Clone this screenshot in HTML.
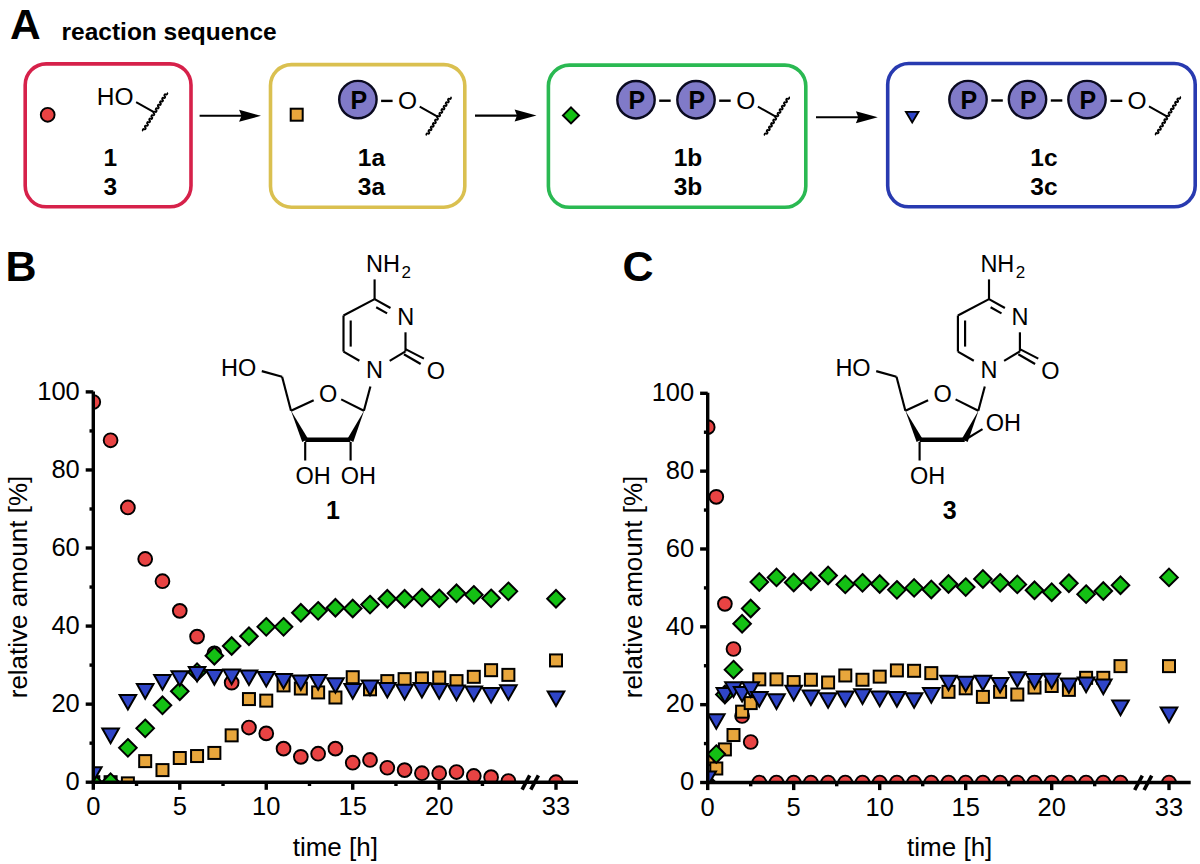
<!DOCTYPE html>
<html><head><meta charset="utf-8"><title>Figure</title>
<style>html,body{margin:0;padding:0;background:#fff;}svg{display:block;}</style>
</head><body>
<svg width="1200" height="864" viewBox="0 0 1200 864" font-family='"Liberation Sans", Arial, Helvetica, sans-serif' fill="#000">
<rect width="1200" height="864" fill="#fff"/>
<text x="10" y="39" font-size="42.5" font-weight="bold">A</text>
<text x="61.5" y="39.7" font-size="24.5" font-weight="bold">reaction sequence</text>
<rect x="25.2" y="63.9" width="165.8" height="142.9" rx="21" ry="21" fill="none" stroke="#d6214a" stroke-width="3.6"/>
<rect x="270.5" y="64.6" width="194.3" height="142.6" rx="21" ry="21" fill="none" stroke="#dac050" stroke-width="3.6"/>
<rect x="548.4" y="65.1" width="257.4" height="142.2" rx="21" ry="21" fill="none" stroke="#2ab952" stroke-width="3.6"/>
<rect x="887.7" y="63.5" width="307.5" height="143.3" rx="21" ry="21" fill="none" stroke="#283ab0" stroke-width="3.6"/>
<line x1="199.6" y1="115.8" x2="243" y2="115.8" stroke="#000" stroke-width="2.1"/>
<path d="M261,115.8 L239.1,109.8 L241.5,115.8 L239.1,121.8 Z" fill="#000"/>
<line x1="475" y1="115.6" x2="518.5" y2="115.6" stroke="#000" stroke-width="2.1"/>
<path d="M536.5,115.6 L514.6,109.6 L517,115.6 L514.6,121.6 Z" fill="#000"/>
<line x1="816" y1="117.3" x2="859.8" y2="117.3" stroke="#000" stroke-width="2.1"/>
<path d="M877.8,117.3 L855.9,111.3 L858.3,117.3 L855.9,123.3 Z" fill="#000"/>
<circle cx="47.7" cy="114.8" r="6.9" fill="#e84343" stroke="#000" stroke-width="1.9"/>
<text x="96.8" y="104.6" font-size="24.5">HO</text>
<line x1="136.1" y1="102.2" x2="153.9" y2="112.2" stroke="#000" stroke-width="2"/>
<path d="M143.2,130.9 A1.02,1.02 0 0 1 144.28,129.16 A1.02,1.02 0 0 0 145.35,127.43 A1.02,1.02 0 0 1 146.43,125.69 A1.02,1.02 0 0 0 147.51,123.95 A1.02,1.02 0 0 1 148.59,122.22 A1.02,1.02 0 0 0 149.66,120.48 A1.02,1.02 0 0 1 150.74,118.75 A1.02,1.02 0 0 0 151.82,117.01 A1.02,1.02 0 0 1 152.9,115.27 A1.02,1.02 0 0 0 153.97,113.54 A1.02,1.02 0 0 1 155.05,111.8 A1.02,1.02 0 0 0 156.13,110.06 A1.02,1.02 0 0 1 157.2,108.33 A1.02,1.02 0 0 0 158.28,106.59 A1.02,1.02 0 0 1 159.36,104.85 A1.02,1.02 0 0 0 160.44,103.12 A1.02,1.02 0 0 1 161.51,101.38 A1.02,1.02 0 0 0 162.59,99.65 A1.02,1.02 0 0 1 163.67,97.91 A1.02,1.02 0 0 0 164.75,96.17 A1.02,1.02 0 0 1 165.82,94.44 A1.02,1.02 0 0 0 166.9,92.7" fill="none" stroke="#000" stroke-width="1.8"/>
<text x="110.4" y="165.8" font-size="24.5" font-weight="bold" text-anchor="middle">1</text>
<text x="110.4" y="194.5" font-size="24.5" font-weight="bold" text-anchor="middle">3</text>
<rect x="290.7" y="108.7" width="12" height="12" fill="#e8a63c" stroke="#000" stroke-width="2"/>
<circle cx="357.9" cy="99.6" r="18.7" fill="#807ac8" stroke="#0a0a20" stroke-width="2.4"/>
<text x="358.8" y="109.1" font-size="25" font-weight="bold" text-anchor="middle">P</text>
<line x1="381.1" y1="100.9" x2="392.6" y2="100.9" stroke="#000" stroke-width="2.4"/>
<text x="398.1" y="109" font-size="24.5">O</text>
<line x1="419.7" y1="106.6" x2="437.5" y2="116.6" stroke="#000" stroke-width="2"/>
<path d="M426.8,135.3 A1.02,1.02 0 0 1 427.88,133.56 A1.02,1.02 0 0 0 428.95,131.83 A1.02,1.02 0 0 1 430.03,130.09 A1.02,1.02 0 0 0 431.11,128.35 A1.02,1.02 0 0 1 432.19,126.62 A1.02,1.02 0 0 0 433.26,124.88 A1.02,1.02 0 0 1 434.34,123.15 A1.02,1.02 0 0 0 435.42,121.41 A1.02,1.02 0 0 1 436.5,119.67 A1.02,1.02 0 0 0 437.57,117.94 A1.02,1.02 0 0 1 438.65,116.2 A1.02,1.02 0 0 0 439.73,114.46 A1.02,1.02 0 0 1 440.8,112.73 A1.02,1.02 0 0 0 441.88,110.99 A1.02,1.02 0 0 1 442.96,109.25 A1.02,1.02 0 0 0 444.04,107.52 A1.02,1.02 0 0 1 445.11,105.78 A1.02,1.02 0 0 0 446.19,104.05 A1.02,1.02 0 0 1 447.27,102.31 A1.02,1.02 0 0 0 448.35,100.57 A1.02,1.02 0 0 1 449.42,98.84 A1.02,1.02 0 0 0 450.5,97.1" fill="none" stroke="#000" stroke-width="1.8"/>
<text x="371.4" y="165.8" font-size="24.5" font-weight="bold" text-anchor="middle">1a</text>
<text x="371.4" y="194.5" font-size="24.5" font-weight="bold" text-anchor="middle">3a</text>
<path d="M571,107.4 L579,115.4 L571,123.4 L563,115.4 Z" fill="#14c014" stroke="#000" stroke-width="2"/>
<circle cx="636" cy="99.75" r="18.7" fill="#807ac8" stroke="#0a0a20" stroke-width="2.4"/>
<text x="636.9" y="109.25" font-size="25" font-weight="bold" text-anchor="middle">P</text>
<line x1="659.2" y1="100.7" x2="670.7" y2="100.7" stroke="#000" stroke-width="2.4"/>
<circle cx="696" cy="99.75" r="18.7" fill="#807ac8" stroke="#0a0a20" stroke-width="2.4"/>
<text x="696.9" y="109.25" font-size="25" font-weight="bold" text-anchor="middle">P</text>
<line x1="719.2" y1="100.7" x2="730.7" y2="100.7" stroke="#000" stroke-width="2.4"/>
<text x="736.3" y="109" font-size="24.5">O</text>
<line x1="757.9" y1="106.6" x2="775.7" y2="116.6" stroke="#000" stroke-width="2"/>
<path d="M765,135.3 A1.02,1.02 0 0 1 766.08,133.56 A1.02,1.02 0 0 0 767.15,131.83 A1.02,1.02 0 0 1 768.23,130.09 A1.02,1.02 0 0 0 769.31,128.35 A1.02,1.02 0 0 1 770.39,126.62 A1.02,1.02 0 0 0 771.46,124.88 A1.02,1.02 0 0 1 772.54,123.15 A1.02,1.02 0 0 0 773.62,121.41 A1.02,1.02 0 0 1 774.7,119.67 A1.02,1.02 0 0 0 775.77,117.94 A1.02,1.02 0 0 1 776.85,116.2 A1.02,1.02 0 0 0 777.93,114.46 A1.02,1.02 0 0 1 779,112.73 A1.02,1.02 0 0 0 780.08,110.99 A1.02,1.02 0 0 1 781.16,109.25 A1.02,1.02 0 0 0 782.24,107.52 A1.02,1.02 0 0 1 783.31,105.78 A1.02,1.02 0 0 0 784.39,104.05 A1.02,1.02 0 0 1 785.47,102.31 A1.02,1.02 0 0 0 786.55,100.57 A1.02,1.02 0 0 1 787.62,98.84 A1.02,1.02 0 0 0 788.7,97.1" fill="none" stroke="#000" stroke-width="1.8"/>
<text x="688" y="165.8" font-size="24.5" font-weight="bold" text-anchor="middle">1b</text>
<text x="688" y="194.5" font-size="24.5" font-weight="bold" text-anchor="middle">3b</text>
<path d="M905.9,111.8 L918.5,111.8 L912.2,122.4 Z" fill="#2f45c8" stroke="#000" stroke-width="1.8"/>
<circle cx="968" cy="99.6" r="18.7" fill="#807ac8" stroke="#0a0a20" stroke-width="2.4"/>
<text x="968.9" y="109.1" font-size="25" font-weight="bold" text-anchor="middle">P</text>
<line x1="991.3" y1="100.5" x2="1002.8" y2="100.5" stroke="#000" stroke-width="2.4"/>
<circle cx="1027.5" cy="99.6" r="18.7" fill="#807ac8" stroke="#0a0a20" stroke-width="2.4"/>
<text x="1028.4" y="109.1" font-size="25" font-weight="bold" text-anchor="middle">P</text>
<line x1="1050.8" y1="100.5" x2="1062.3" y2="100.5" stroke="#000" stroke-width="2.4"/>
<circle cx="1087" cy="99.6" r="18.7" fill="#807ac8" stroke="#0a0a20" stroke-width="2.4"/>
<text x="1087.9" y="109.1" font-size="25" font-weight="bold" text-anchor="middle">P</text>
<line x1="1110.5" y1="100.8" x2="1122.3" y2="100.8" stroke="#000" stroke-width="2.4"/>
<text x="1127.4" y="108.7" font-size="24.5">O</text>
<line x1="1149" y1="106.3" x2="1166.8" y2="116.3" stroke="#000" stroke-width="2"/>
<path d="M1156.1,135 A1.02,1.02 0 0 1 1157.18,133.26 A1.02,1.02 0 0 0 1158.25,131.53 A1.02,1.02 0 0 1 1159.33,129.79 A1.02,1.02 0 0 0 1160.41,128.05 A1.02,1.02 0 0 1 1161.49,126.32 A1.02,1.02 0 0 0 1162.56,124.58 A1.02,1.02 0 0 1 1163.64,122.85 A1.02,1.02 0 0 0 1164.72,121.11 A1.02,1.02 0 0 1 1165.8,119.37 A1.02,1.02 0 0 0 1166.87,117.64 A1.02,1.02 0 0 1 1167.95,115.9 A1.02,1.02 0 0 0 1169.03,114.16 A1.02,1.02 0 0 1 1170.1,112.43 A1.02,1.02 0 0 0 1171.18,110.69 A1.02,1.02 0 0 1 1172.26,108.95 A1.02,1.02 0 0 0 1173.34,107.22 A1.02,1.02 0 0 1 1174.41,105.48 A1.02,1.02 0 0 0 1175.49,103.75 A1.02,1.02 0 0 1 1176.57,102.01 A1.02,1.02 0 0 0 1177.65,100.27 A1.02,1.02 0 0 1 1178.72,98.54 A1.02,1.02 0 0 0 1179.8,96.8" fill="none" stroke="#000" stroke-width="1.8"/>
<text x="1043.9" y="165.8" font-size="24.5" font-weight="bold" text-anchor="middle">1c</text>
<text x="1043.9" y="194.5" font-size="24.5" font-weight="bold" text-anchor="middle">3c</text>
<text x="5.5" y="281" font-size="43" font-weight="bold">B</text>
<text x="622.5" y="281" font-size="43" font-weight="bold">C</text>
<text x="366" y="271.9" font-size="23.5" text-anchor="start">NH</text>
<text x="401.4" y="277.7" font-size="17">2</text>
<line x1="374.6" y1="279.4" x2="374.6" y2="299.1" stroke="#000" stroke-width="2.15" stroke-linecap="butt"/>
<line x1="374.6" y1="299.1" x2="343.5" y2="315.5" stroke="#000" stroke-width="2.15" stroke-linecap="butt"/>
<line x1="343.5" y1="315.5" x2="343.5" y2="351.6" stroke="#000" stroke-width="2.15" stroke-linecap="butt"/>
<line x1="350.7" y1="320.5" x2="350.7" y2="346.6" stroke="#000" stroke-width="2.15" stroke-linecap="butt"/>
<line x1="343.5" y1="351.6" x2="359.4" y2="360.8" stroke="#000" stroke-width="2.15" stroke-linecap="butt"/>
<line x1="389.7" y1="360.8" x2="405.5" y2="351.4" stroke="#000" stroke-width="2.15" stroke-linecap="butt"/>
<line x1="405.5" y1="351.4" x2="405.5" y2="332.3" stroke="#000" stroke-width="2.15" stroke-linecap="butt"/>
<line x1="390.5" y1="308" x2="374.6" y2="299.1" stroke="#000" stroke-width="2.15" stroke-linecap="butt"/>
<line x1="387.1" y1="313.4" x2="376.2" y2="307.3" stroke="#000" stroke-width="2.15" stroke-linecap="butt"/>
<line x1="405.5" y1="349.1" x2="423.9" y2="358.6" stroke="#000" stroke-width="2.15" stroke-linecap="butt"/>
<line x1="403.9" y1="354.2" x2="420.7" y2="364" stroke="#000" stroke-width="2.15" stroke-linecap="butt"/>
<text x="397.2" y="325.2" font-size="23.5" text-anchor="start">N</text>
<text x="366" y="377.6" font-size="23.5" text-anchor="start">N</text>
<text x="426.8" y="378.8" font-size="23.5" text-anchor="start">O</text>
<text x="221" y="376.2" font-size="23.5" text-anchor="start">HO</text>
<line x1="261.8" y1="371.1" x2="282.1" y2="376.7" stroke="#000" stroke-width="2.15" stroke-linecap="butt"/>
<line x1="282.1" y1="376.7" x2="291" y2="410.8" stroke="#000" stroke-width="2.15" stroke-linecap="butt"/>
<line x1="291" y1="410.8" x2="313.7" y2="400.2" stroke="#000" stroke-width="2.15" stroke-linecap="butt"/>
<text x="319" y="402.2" font-size="23.5" text-anchor="start">O</text>
<line x1="341.2" y1="399.4" x2="363.9" y2="410.8" stroke="#000" stroke-width="2.15" stroke-linecap="butt"/>
<line x1="363.9" y1="410.8" x2="370.4" y2="386.5" stroke="#000" stroke-width="2.15" stroke-linecap="butt"/>
<path d="M290.9,410.6 L302.22,441.92 L308.18,439.08 Z" fill="#000"/>
<path d="M364.2,410.6 L347.31,439.11 L353.29,441.89 Z" fill="#000"/>
<line x1="305.2" y1="439.7" x2="350.3" y2="439.7" stroke="#000" stroke-width="4.4" stroke-linecap="butt"/>
<line x1="305.2" y1="442" x2="305.2" y2="460.5" stroke="#000" stroke-width="2.15" stroke-linecap="butt"/>
<text x="295.5" y="483.7" font-size="23.5" text-anchor="start">OH</text>
<line x1="350.6" y1="442" x2="350.6" y2="460.5" stroke="#000" stroke-width="2.15" stroke-linecap="butt"/>
<text x="340.8" y="483.7" font-size="23.5" text-anchor="start">OH</text>
<text x="332.9" y="519.2" font-size="25" font-weight="bold" text-anchor="middle">1</text>
<text x="980.4" y="271.9" font-size="23.5" text-anchor="start">NH</text>
<text x="1015.8" y="277.7" font-size="17">2</text>
<line x1="989" y1="279.4" x2="989" y2="299.1" stroke="#000" stroke-width="2.15" stroke-linecap="butt"/>
<line x1="989" y1="299.1" x2="957.9" y2="315.5" stroke="#000" stroke-width="2.15" stroke-linecap="butt"/>
<line x1="957.9" y1="315.5" x2="957.9" y2="351.6" stroke="#000" stroke-width="2.15" stroke-linecap="butt"/>
<line x1="965.1" y1="320.5" x2="965.1" y2="346.6" stroke="#000" stroke-width="2.15" stroke-linecap="butt"/>
<line x1="957.9" y1="351.6" x2="973.8" y2="360.8" stroke="#000" stroke-width="2.15" stroke-linecap="butt"/>
<line x1="1004.1" y1="360.8" x2="1019.9" y2="351.4" stroke="#000" stroke-width="2.15" stroke-linecap="butt"/>
<line x1="1019.9" y1="351.4" x2="1019.9" y2="332.3" stroke="#000" stroke-width="2.15" stroke-linecap="butt"/>
<line x1="1004.9" y1="308" x2="989" y2="299.1" stroke="#000" stroke-width="2.15" stroke-linecap="butt"/>
<line x1="1001.5" y1="313.4" x2="990.6" y2="307.3" stroke="#000" stroke-width="2.15" stroke-linecap="butt"/>
<line x1="1019.9" y1="349.1" x2="1038.3" y2="358.6" stroke="#000" stroke-width="2.15" stroke-linecap="butt"/>
<line x1="1018.3" y1="354.2" x2="1035.1" y2="364" stroke="#000" stroke-width="2.15" stroke-linecap="butt"/>
<text x="1011.6" y="325.2" font-size="23.5" text-anchor="start">N</text>
<text x="980.4" y="377.6" font-size="23.5" text-anchor="start">N</text>
<text x="1041.2" y="378.8" font-size="23.5" text-anchor="start">O</text>
<text x="835.4" y="376.2" font-size="23.5" text-anchor="start">HO</text>
<line x1="876.2" y1="371.1" x2="896.5" y2="376.7" stroke="#000" stroke-width="2.15" stroke-linecap="butt"/>
<line x1="896.5" y1="376.7" x2="905.4" y2="410.8" stroke="#000" stroke-width="2.15" stroke-linecap="butt"/>
<line x1="905.4" y1="410.8" x2="928.1" y2="400.2" stroke="#000" stroke-width="2.15" stroke-linecap="butt"/>
<text x="933.4" y="402.2" font-size="23.5" text-anchor="start">O</text>
<line x1="955.6" y1="399.4" x2="978.3" y2="410.8" stroke="#000" stroke-width="2.15" stroke-linecap="butt"/>
<line x1="978.3" y1="410.8" x2="984.8" y2="386.5" stroke="#000" stroke-width="2.15" stroke-linecap="butt"/>
<path d="M905.3,410.6 L916.62,441.92 L922.58,439.08 Z" fill="#000"/>
<path d="M978.6,410.6 L961.71,439.11 L967.69,441.89 Z" fill="#000"/>
<line x1="919.6" y1="439.7" x2="964.7" y2="439.7" stroke="#000" stroke-width="4.4" stroke-linecap="butt"/>
<line x1="919.6" y1="442" x2="919.6" y2="460.5" stroke="#000" stroke-width="2.15" stroke-linecap="butt"/>
<text x="909.9" y="483.7" font-size="23.5" text-anchor="start">OH</text>
<line x1="964.7" y1="440" x2="982.5" y2="429.2" stroke="#000" stroke-width="2.15" stroke-linecap="butt"/>
<text x="985.8" y="430.8" font-size="23.5" text-anchor="start">OH</text>
<text x="949.6" y="519.2" font-size="25" font-weight="bold" text-anchor="middle">3</text>
<clipPath id="cb"><rect x="93.3" y="371.9" width="504.7" height="410.3"/></clipPath>
<g clip-path="url(#cb)">
<circle cx="93.3" cy="402.05" r="6.9" fill="#e84343" stroke="#000" stroke-width="1.9"/>
<circle cx="110.59" cy="440.3" r="6.9" fill="#e84343" stroke="#000" stroke-width="1.9"/>
<circle cx="127.89" cy="507.43" r="6.9" fill="#e84343" stroke="#000" stroke-width="1.9"/>
<circle cx="145.19" cy="558.95" r="6.9" fill="#e84343" stroke="#000" stroke-width="1.9"/>
<circle cx="162.48" cy="581.2" r="6.9" fill="#e84343" stroke="#000" stroke-width="1.9"/>
<circle cx="179.78" cy="610.86" r="6.9" fill="#e84343" stroke="#000" stroke-width="1.9"/>
<circle cx="197.07" cy="636.62" r="6.9" fill="#e84343" stroke="#000" stroke-width="1.9"/>
<circle cx="214.37" cy="653.4" r="6.9" fill="#e84343" stroke="#000" stroke-width="1.9"/>
<circle cx="231.66" cy="682.67" r="6.9" fill="#e84343" stroke="#000" stroke-width="1.9"/>
<circle cx="248.96" cy="727.56" r="6.9" fill="#e84343" stroke="#000" stroke-width="1.9"/>
<circle cx="266.25" cy="733.41" r="6.9" fill="#e84343" stroke="#000" stroke-width="1.9"/>
<circle cx="283.55" cy="748.63" r="6.9" fill="#e84343" stroke="#000" stroke-width="1.9"/>
<circle cx="300.84" cy="756.83" r="6.9" fill="#e84343" stroke="#000" stroke-width="1.9"/>
<circle cx="318.14" cy="753.71" r="6.9" fill="#e84343" stroke="#000" stroke-width="1.9"/>
<circle cx="335.43" cy="748.63" r="6.9" fill="#e84343" stroke="#000" stroke-width="1.9"/>
<circle cx="352.73" cy="762.69" r="6.9" fill="#e84343" stroke="#000" stroke-width="1.9"/>
<circle cx="370.02" cy="759.95" r="6.9" fill="#e84343" stroke="#000" stroke-width="1.9"/>
<circle cx="387.32" cy="767.76" r="6.9" fill="#e84343" stroke="#000" stroke-width="1.9"/>
<circle cx="404.61" cy="770.1" r="6.9" fill="#e84343" stroke="#000" stroke-width="1.9"/>
<circle cx="421.91" cy="773.22" r="6.9" fill="#e84343" stroke="#000" stroke-width="1.9"/>
<circle cx="439.2" cy="773.22" r="6.9" fill="#e84343" stroke="#000" stroke-width="1.9"/>
<circle cx="456.5" cy="772.05" r="6.9" fill="#e84343" stroke="#000" stroke-width="1.9"/>
<circle cx="473.79" cy="775.96" r="6.9" fill="#e84343" stroke="#000" stroke-width="1.9"/>
<circle cx="491.09" cy="777.13" r="6.9" fill="#e84343" stroke="#000" stroke-width="1.9"/>
<circle cx="508.38" cy="781.03" r="6.9" fill="#e84343" stroke="#000" stroke-width="1.9"/>
<circle cx="556" cy="782.2" r="6.9" fill="#e84343" stroke="#000" stroke-width="1.9"/>
<rect x="87.3" y="776.2" width="12" height="12" fill="#e8a63c" stroke="#000" stroke-width="2"/>
<rect x="104.59" y="776.2" width="12" height="12" fill="#e8a63c" stroke="#000" stroke-width="2"/>
<rect x="121.89" y="777.37" width="12" height="12" fill="#e8a63c" stroke="#000" stroke-width="2"/>
<rect x="139.19" y="755.12" width="12" height="12" fill="#e8a63c" stroke="#000" stroke-width="2"/>
<rect x="156.48" y="764.1" width="12" height="12" fill="#e8a63c" stroke="#000" stroke-width="2"/>
<rect x="173.78" y="752" width="12" height="12" fill="#e8a63c" stroke="#000" stroke-width="2"/>
<rect x="191.07" y="750.05" width="12" height="12" fill="#e8a63c" stroke="#000" stroke-width="2"/>
<rect x="208.37" y="746.93" width="12" height="12" fill="#e8a63c" stroke="#000" stroke-width="2"/>
<rect x="225.66" y="729.36" width="12" height="12" fill="#e8a63c" stroke="#000" stroke-width="2"/>
<rect x="242.96" y="693.07" width="12" height="12" fill="#e8a63c" stroke="#000" stroke-width="2"/>
<rect x="260.25" y="694.63" width="12" height="12" fill="#e8a63c" stroke="#000" stroke-width="2"/>
<rect x="277.55" y="679.41" width="12" height="12" fill="#e8a63c" stroke="#000" stroke-width="2"/>
<rect x="294.84" y="682.53" width="12" height="12" fill="#e8a63c" stroke="#000" stroke-width="2"/>
<rect x="312.14" y="686.43" width="12" height="12" fill="#e8a63c" stroke="#000" stroke-width="2"/>
<rect x="329.43" y="691.5" width="12" height="12" fill="#e8a63c" stroke="#000" stroke-width="2"/>
<rect x="346.73" y="671.21" width="12" height="12" fill="#e8a63c" stroke="#000" stroke-width="2"/>
<rect x="364.02" y="683.31" width="12" height="12" fill="#e8a63c" stroke="#000" stroke-width="2"/>
<rect x="381.32" y="675.11" width="12" height="12" fill="#e8a63c" stroke="#000" stroke-width="2"/>
<rect x="398.61" y="673.16" width="12" height="12" fill="#e8a63c" stroke="#000" stroke-width="2"/>
<rect x="415.91" y="672.38" width="12" height="12" fill="#e8a63c" stroke="#000" stroke-width="2"/>
<rect x="433.2" y="671.6" width="12" height="12" fill="#e8a63c" stroke="#000" stroke-width="2"/>
<rect x="450.5" y="675.11" width="12" height="12" fill="#e8a63c" stroke="#000" stroke-width="2"/>
<rect x="467.79" y="670.82" width="12" height="12" fill="#e8a63c" stroke="#000" stroke-width="2"/>
<rect x="485.09" y="664.18" width="12" height="12" fill="#e8a63c" stroke="#000" stroke-width="2"/>
<rect x="502.38" y="668.87" width="12" height="12" fill="#e8a63c" stroke="#000" stroke-width="2"/>
<rect x="550" y="654.43" width="12" height="12" fill="#e8a63c" stroke="#000" stroke-width="2"/>
<path d="M93.3,773.4 L102.1,782.2 L93.3,791 L84.5,782.2 Z" fill="#14c014" stroke="#000" stroke-width="2"/>
<path d="M110.59,773.4 L119.39,782.2 L110.59,791 L101.8,782.2 Z" fill="#14c014" stroke="#000" stroke-width="2"/>
<path d="M127.89,739.05 L136.69,747.85 L127.89,756.65 L119.09,747.85 Z" fill="#14c014" stroke="#000" stroke-width="2"/>
<path d="M145.19,719.54 L153.99,728.34 L145.19,737.14 L136.38,728.34 Z" fill="#14c014" stroke="#000" stroke-width="2"/>
<path d="M162.48,696.51 L171.28,705.31 L162.48,714.11 L153.68,705.31 Z" fill="#14c014" stroke="#000" stroke-width="2"/>
<path d="M179.78,682.46 L188.58,691.26 L179.78,700.06 L170.97,691.26 Z" fill="#14c014" stroke="#000" stroke-width="2"/>
<path d="M197.07,663.34 L205.87,672.14 L197.07,680.94 L188.27,672.14 Z" fill="#14c014" stroke="#000" stroke-width="2"/>
<path d="M214.37,646.94 L223.17,655.74 L214.37,664.54 L205.56,655.74 Z" fill="#14c014" stroke="#000" stroke-width="2"/>
<path d="M231.66,637.19 L240.46,645.99 L231.66,654.79 L222.86,645.99 Z" fill="#14c014" stroke="#000" stroke-width="2"/>
<path d="M248.96,627.43 L257.76,636.23 L248.96,645.03 L240.16,636.23 Z" fill="#14c014" stroke="#000" stroke-width="2"/>
<path d="M266.25,618.06 L275.05,626.86 L266.25,635.66 L257.45,626.86 Z" fill="#14c014" stroke="#000" stroke-width="2"/>
<path d="M283.55,618.06 L292.35,626.86 L283.55,635.66 L274.75,626.86 Z" fill="#14c014" stroke="#000" stroke-width="2"/>
<path d="M300.84,604.01 L309.64,612.81 L300.84,621.61 L292.04,612.81 Z" fill="#14c014" stroke="#000" stroke-width="2"/>
<path d="M318.14,602.06 L326.94,610.86 L318.14,619.66 L309.34,610.86 Z" fill="#14c014" stroke="#000" stroke-width="2"/>
<path d="M335.43,598.94 L344.23,607.74 L335.43,616.54 L326.63,607.74 Z" fill="#14c014" stroke="#000" stroke-width="2"/>
<path d="M352.73,599.72 L361.53,608.52 L352.73,617.32 L343.93,608.52 Z" fill="#14c014" stroke="#000" stroke-width="2"/>
<path d="M370.02,595.81 L378.82,604.61 L370.02,613.41 L361.22,604.61 Z" fill="#14c014" stroke="#000" stroke-width="2"/>
<path d="M387.32,589.96 L396.12,598.76 L387.32,607.56 L378.52,598.76 Z" fill="#14c014" stroke="#000" stroke-width="2"/>
<path d="M404.61,589.96 L413.41,598.76 L404.61,607.56 L395.81,598.76 Z" fill="#14c014" stroke="#000" stroke-width="2"/>
<path d="M421.91,588.79 L430.71,597.59 L421.91,606.39 L413.11,597.59 Z" fill="#14c014" stroke="#000" stroke-width="2"/>
<path d="M439.2,589.57 L448,598.37 L439.2,607.17 L430.4,598.37 Z" fill="#14c014" stroke="#000" stroke-width="2"/>
<path d="M456.5,584.49 L465.3,593.29 L456.5,602.09 L447.7,593.29 Z" fill="#14c014" stroke="#000" stroke-width="2"/>
<path d="M473.79,586.06 L482.59,594.86 L473.79,603.66 L464.99,594.86 Z" fill="#14c014" stroke="#000" stroke-width="2"/>
<path d="M491.09,589.57 L499.89,598.37 L491.09,607.17 L482.29,598.37 Z" fill="#14c014" stroke="#000" stroke-width="2"/>
<path d="M508.38,582.54 L517.18,591.34 L508.38,600.14 L499.58,591.34 Z" fill="#14c014" stroke="#000" stroke-width="2"/>
<path d="M556,589.96 L564.8,598.76 L556,607.56 L547.2,598.76 Z" fill="#14c014" stroke="#000" stroke-width="2"/>
<path d="M85,767.19 L101.6,767.19 L93.3,781.79 Z" fill="#2f45c8" stroke="#000" stroke-width="2" stroke-linejoin="miter"/>
<path d="M102.3,728.55 L118.89,728.55 L110.59,743.15 Z" fill="#2f45c8" stroke="#000" stroke-width="2" stroke-linejoin="miter"/>
<path d="M119.59,694.99 L136.19,694.99 L127.89,709.59 Z" fill="#2f45c8" stroke="#000" stroke-width="2" stroke-linejoin="miter"/>
<path d="M136.88,684.06 L153.49,684.06 L145.19,698.66 Z" fill="#2f45c8" stroke="#000" stroke-width="2" stroke-linejoin="miter"/>
<path d="M154.18,675.08 L170.78,675.08 L162.48,689.68 Z" fill="#2f45c8" stroke="#000" stroke-width="2" stroke-linejoin="miter"/>
<path d="M171.47,671.18 L188.08,671.18 L179.78,685.78 Z" fill="#2f45c8" stroke="#000" stroke-width="2" stroke-linejoin="miter"/>
<path d="M188.77,666.89 L205.37,666.89 L197.07,681.49 Z" fill="#2f45c8" stroke="#000" stroke-width="2" stroke-linejoin="miter"/>
<path d="M206.06,670.01 L222.67,670.01 L214.37,684.61 Z" fill="#2f45c8" stroke="#000" stroke-width="2" stroke-linejoin="miter"/>
<path d="M223.36,669.62 L239.96,669.62 L231.66,684.22 Z" fill="#2f45c8" stroke="#000" stroke-width="2" stroke-linejoin="miter"/>
<path d="M240.66,670.4 L257.26,670.4 L248.96,685 Z" fill="#2f45c8" stroke="#000" stroke-width="2" stroke-linejoin="miter"/>
<path d="M257.95,671.96 L274.55,671.96 L266.25,686.56 Z" fill="#2f45c8" stroke="#000" stroke-width="2" stroke-linejoin="miter"/>
<path d="M275.25,673.91 L291.85,673.91 L283.55,688.51 Z" fill="#2f45c8" stroke="#000" stroke-width="2" stroke-linejoin="miter"/>
<path d="M292.54,675.47 L309.14,675.47 L300.84,690.07 Z" fill="#2f45c8" stroke="#000" stroke-width="2" stroke-linejoin="miter"/>
<path d="M309.84,675.08 L326.44,675.08 L318.14,689.68 Z" fill="#2f45c8" stroke="#000" stroke-width="2" stroke-linejoin="miter"/>
<path d="M327.13,678.21 L343.73,678.21 L335.43,692.81 Z" fill="#2f45c8" stroke="#000" stroke-width="2" stroke-linejoin="miter"/>
<path d="M344.43,684.06 L361.03,684.06 L352.73,698.66 Z" fill="#2f45c8" stroke="#000" stroke-width="2" stroke-linejoin="miter"/>
<path d="M361.72,680.55 L378.32,680.55 L370.02,695.15 Z" fill="#2f45c8" stroke="#000" stroke-width="2" stroke-linejoin="miter"/>
<path d="M379.02,682.89 L395.62,682.89 L387.32,697.49 Z" fill="#2f45c8" stroke="#000" stroke-width="2" stroke-linejoin="miter"/>
<path d="M396.31,684.84 L412.91,684.84 L404.61,699.44 Z" fill="#2f45c8" stroke="#000" stroke-width="2" stroke-linejoin="miter"/>
<path d="M413.61,682.89 L430.21,682.89 L421.91,697.49 Z" fill="#2f45c8" stroke="#000" stroke-width="2" stroke-linejoin="miter"/>
<path d="M430.9,684.06 L447.5,684.06 L439.2,698.66 Z" fill="#2f45c8" stroke="#000" stroke-width="2" stroke-linejoin="miter"/>
<path d="M448.2,685.62 L464.8,685.62 L456.5,700.22 Z" fill="#2f45c8" stroke="#000" stroke-width="2" stroke-linejoin="miter"/>
<path d="M465.49,686.4 L482.09,686.4 L473.79,701 Z" fill="#2f45c8" stroke="#000" stroke-width="2" stroke-linejoin="miter"/>
<path d="M482.79,687.96 L499.39,687.96 L491.09,702.56 Z" fill="#2f45c8" stroke="#000" stroke-width="2" stroke-linejoin="miter"/>
<path d="M500.08,685.23 L516.68,685.23 L508.38,699.83 Z" fill="#2f45c8" stroke="#000" stroke-width="2" stroke-linejoin="miter"/>
<path d="M547.7,691.48 L564.3,691.48 L556,706.08 Z" fill="#2f45c8" stroke="#000" stroke-width="2" stroke-linejoin="miter"/>
</g>
<line x1="93.3" y1="391.4" x2="93.3" y2="783.9" stroke="#000" stroke-width="3.4"/>
<line x1="91.6" y1="782.2" x2="578" y2="782.2" stroke="#000" stroke-width="3.4"/>
<line x1="85.7" y1="782.2" x2="93.3" y2="782.2" stroke="#000" stroke-width="3.4"/>
<text x="79.8" y="790" font-size="25.5" text-anchor="end">0</text>
<line x1="85.7" y1="704.14" x2="93.3" y2="704.14" stroke="#000" stroke-width="3.4"/>
<text x="79.8" y="711.94" font-size="25.5" text-anchor="end">20</text>
<line x1="85.7" y1="626.08" x2="93.3" y2="626.08" stroke="#000" stroke-width="3.4"/>
<text x="79.8" y="633.88" font-size="25.5" text-anchor="end">40</text>
<line x1="85.7" y1="548.02" x2="93.3" y2="548.02" stroke="#000" stroke-width="3.4"/>
<text x="79.8" y="555.82" font-size="25.5" text-anchor="end">60</text>
<line x1="85.7" y1="469.96" x2="93.3" y2="469.96" stroke="#000" stroke-width="3.4"/>
<text x="79.8" y="477.76" font-size="25.5" text-anchor="end">80</text>
<line x1="85.7" y1="391.9" x2="93.3" y2="391.9" stroke="#000" stroke-width="3.4"/>
<text x="79.8" y="399.7" font-size="25.5" text-anchor="end">100</text>
<line x1="89.5" y1="743.17" x2="93.3" y2="743.17" stroke="#000" stroke-width="3.4"/>
<line x1="89.5" y1="665.11" x2="93.3" y2="665.11" stroke="#000" stroke-width="3.4"/>
<line x1="89.5" y1="587.05" x2="93.3" y2="587.05" stroke="#000" stroke-width="3.4"/>
<line x1="89.5" y1="508.99" x2="93.3" y2="508.99" stroke="#000" stroke-width="3.4"/>
<line x1="89.5" y1="430.93" x2="93.3" y2="430.93" stroke="#000" stroke-width="3.4"/>
<line x1="93.3" y1="782.2" x2="93.3" y2="789.8" stroke="#000" stroke-width="3.4"/>
<text x="93.3" y="815.4" font-size="25.5" text-anchor="middle">0</text>
<line x1="179.78" y1="782.2" x2="179.78" y2="789.8" stroke="#000" stroke-width="3.4"/>
<text x="179.78" y="815.4" font-size="25.5" text-anchor="middle">5</text>
<line x1="266.25" y1="782.2" x2="266.25" y2="789.8" stroke="#000" stroke-width="3.4"/>
<text x="266.25" y="815.4" font-size="25.5" text-anchor="middle">10</text>
<line x1="352.73" y1="782.2" x2="352.73" y2="789.8" stroke="#000" stroke-width="3.4"/>
<text x="352.73" y="815.4" font-size="25.5" text-anchor="middle">15</text>
<line x1="439.2" y1="782.2" x2="439.2" y2="789.8" stroke="#000" stroke-width="3.4"/>
<text x="439.2" y="815.4" font-size="25.5" text-anchor="middle">20</text>
<line x1="556" y1="782.2" x2="556" y2="789.8" stroke="#000" stroke-width="3.4"/>
<text x="556" y="815.4" font-size="25.5" text-anchor="middle">33</text>
<line x1="136.54" y1="782.2" x2="136.54" y2="786" stroke="#000" stroke-width="3.4"/>
<line x1="223.01" y1="782.2" x2="223.01" y2="786" stroke="#000" stroke-width="3.4"/>
<line x1="309.49" y1="782.2" x2="309.49" y2="786" stroke="#000" stroke-width="3.4"/>
<line x1="395.96" y1="782.2" x2="395.96" y2="786" stroke="#000" stroke-width="3.4"/>
<line x1="482.44" y1="782.2" x2="482.44" y2="786" stroke="#000" stroke-width="3.4"/>
<line x1="522.1" y1="789.7" x2="529.7" y2="775.4" stroke="#000" stroke-width="3.6"/>
<line x1="530.8" y1="789.7" x2="538.4" y2="775.4" stroke="#000" stroke-width="3.6"/>
<text x="335.3" y="855.7" font-size="26" text-anchor="middle">time [h]</text>
<text transform="translate(27.4,587) rotate(-90)" x="0" y="0" font-size="26" text-anchor="middle">relative amount [%]</text>
<clipPath id="cc"><rect x="707.7" y="373.3" width="503" height="409.2"/></clipPath>
<g clip-path="url(#cc)">
<circle cx="707.7" cy="427.16" r="6.9" fill="#e84343" stroke="#000" stroke-width="1.9"/>
<circle cx="716.3" cy="496.83" r="6.9" fill="#e84343" stroke="#000" stroke-width="1.9"/>
<circle cx="724.9" cy="603.86" r="6.9" fill="#e84343" stroke="#000" stroke-width="1.9"/>
<circle cx="733.5" cy="649" r="6.9" fill="#e84343" stroke="#000" stroke-width="1.9"/>
<circle cx="742.1" cy="715.95" r="6.9" fill="#e84343" stroke="#000" stroke-width="1.9"/>
<circle cx="750.7" cy="742.02" r="6.9" fill="#e84343" stroke="#000" stroke-width="1.9"/>
<circle cx="759.3" cy="782.5" r="6.9" fill="#e84343" stroke="#000" stroke-width="1.9"/>
<circle cx="776.5" cy="782.5" r="6.9" fill="#e84343" stroke="#000" stroke-width="1.9"/>
<circle cx="793.7" cy="782.5" r="6.9" fill="#e84343" stroke="#000" stroke-width="1.9"/>
<circle cx="810.9" cy="782.5" r="6.9" fill="#e84343" stroke="#000" stroke-width="1.9"/>
<circle cx="828.1" cy="782.5" r="6.9" fill="#e84343" stroke="#000" stroke-width="1.9"/>
<circle cx="845.3" cy="782.5" r="6.9" fill="#e84343" stroke="#000" stroke-width="1.9"/>
<circle cx="862.5" cy="782.5" r="6.9" fill="#e84343" stroke="#000" stroke-width="1.9"/>
<circle cx="879.7" cy="782.5" r="6.9" fill="#e84343" stroke="#000" stroke-width="1.9"/>
<circle cx="896.9" cy="782.5" r="6.9" fill="#e84343" stroke="#000" stroke-width="1.9"/>
<circle cx="914.1" cy="782.5" r="6.9" fill="#e84343" stroke="#000" stroke-width="1.9"/>
<circle cx="931.3" cy="782.5" r="6.9" fill="#e84343" stroke="#000" stroke-width="1.9"/>
<circle cx="948.5" cy="782.5" r="6.9" fill="#e84343" stroke="#000" stroke-width="1.9"/>
<circle cx="965.7" cy="782.5" r="6.9" fill="#e84343" stroke="#000" stroke-width="1.9"/>
<circle cx="982.9" cy="782.5" r="6.9" fill="#e84343" stroke="#000" stroke-width="1.9"/>
<circle cx="1000.1" cy="782.5" r="6.9" fill="#e84343" stroke="#000" stroke-width="1.9"/>
<circle cx="1017.3" cy="782.5" r="6.9" fill="#e84343" stroke="#000" stroke-width="1.9"/>
<circle cx="1034.5" cy="782.5" r="6.9" fill="#e84343" stroke="#000" stroke-width="1.9"/>
<circle cx="1051.7" cy="782.5" r="6.9" fill="#e84343" stroke="#000" stroke-width="1.9"/>
<circle cx="1068.9" cy="782.5" r="6.9" fill="#e84343" stroke="#000" stroke-width="1.9"/>
<circle cx="1086.1" cy="782.5" r="6.9" fill="#e84343" stroke="#000" stroke-width="1.9"/>
<circle cx="1103.3" cy="782.5" r="6.9" fill="#e84343" stroke="#000" stroke-width="1.9"/>
<circle cx="1120.5" cy="782.5" r="6.9" fill="#e84343" stroke="#000" stroke-width="1.9"/>
<circle cx="1169" cy="782.5" r="6.9" fill="#e84343" stroke="#000" stroke-width="1.9"/>
<rect x="701.7" y="753.15" width="12" height="12" fill="#e8a63c" stroke="#000" stroke-width="2"/>
<rect x="710.3" y="762.49" width="12" height="12" fill="#e8a63c" stroke="#000" stroke-width="2"/>
<rect x="718.9" y="743.42" width="12" height="12" fill="#e8a63c" stroke="#000" stroke-width="2"/>
<rect x="727.5" y="729.02" width="12" height="12" fill="#e8a63c" stroke="#000" stroke-width="2"/>
<rect x="736.1" y="705.67" width="12" height="12" fill="#e8a63c" stroke="#000" stroke-width="2"/>
<rect x="744.7" y="697.1" width="12" height="12" fill="#e8a63c" stroke="#000" stroke-width="2"/>
<rect x="753.3" y="673.36" width="12" height="12" fill="#e8a63c" stroke="#000" stroke-width="2"/>
<rect x="770.5" y="673.36" width="12" height="12" fill="#e8a63c" stroke="#000" stroke-width="2"/>
<rect x="787.7" y="676.09" width="12" height="12" fill="#e8a63c" stroke="#000" stroke-width="2"/>
<rect x="804.9" y="673.75" width="12" height="12" fill="#e8a63c" stroke="#000" stroke-width="2"/>
<rect x="822.1" y="676.48" width="12" height="12" fill="#e8a63c" stroke="#000" stroke-width="2"/>
<rect x="839.3" y="669.47" width="12" height="12" fill="#e8a63c" stroke="#000" stroke-width="2"/>
<rect x="856.5" y="673.75" width="12" height="12" fill="#e8a63c" stroke="#000" stroke-width="2"/>
<rect x="873.7" y="670.64" width="12" height="12" fill="#e8a63c" stroke="#000" stroke-width="2"/>
<rect x="890.9" y="664.41" width="12" height="12" fill="#e8a63c" stroke="#000" stroke-width="2"/>
<rect x="908.1" y="664.8" width="12" height="12" fill="#e8a63c" stroke="#000" stroke-width="2"/>
<rect x="925.3" y="667.13" width="12" height="12" fill="#e8a63c" stroke="#000" stroke-width="2"/>
<rect x="942.5" y="685.82" width="12" height="12" fill="#e8a63c" stroke="#000" stroke-width="2"/>
<rect x="959.7" y="682.31" width="12" height="12" fill="#e8a63c" stroke="#000" stroke-width="2"/>
<rect x="976.9" y="690.88" width="12" height="12" fill="#e8a63c" stroke="#000" stroke-width="2"/>
<rect x="994.1" y="685.82" width="12" height="12" fill="#e8a63c" stroke="#000" stroke-width="2"/>
<rect x="1011.3" y="688.54" width="12" height="12" fill="#e8a63c" stroke="#000" stroke-width="2"/>
<rect x="1028.5" y="681.54" width="12" height="12" fill="#e8a63c" stroke="#000" stroke-width="2"/>
<rect x="1045.7" y="679.98" width="12" height="12" fill="#e8a63c" stroke="#000" stroke-width="2"/>
<rect x="1062.9" y="683.87" width="12" height="12" fill="#e8a63c" stroke="#000" stroke-width="2"/>
<rect x="1080.1" y="671.81" width="12" height="12" fill="#e8a63c" stroke="#000" stroke-width="2"/>
<rect x="1097.3" y="671.81" width="12" height="12" fill="#e8a63c" stroke="#000" stroke-width="2"/>
<rect x="1114.5" y="660.13" width="12" height="12" fill="#e8a63c" stroke="#000" stroke-width="2"/>
<rect x="1163" y="660.13" width="12" height="12" fill="#e8a63c" stroke="#000" stroke-width="2"/>
<path d="M712,778.76 L720.8,787.56 L712,796.36 L703.2,787.56 Z" fill="#14c014" stroke="#000" stroke-width="2"/>
<path d="M716.3,745.29 L725.1,754.09 L716.3,762.89 L707.5,754.09 Z" fill="#14c014" stroke="#000" stroke-width="2"/>
<path d="M724.9,685.74 L733.7,694.54 L724.9,703.34 L716.1,694.54 Z" fill="#14c014" stroke="#000" stroke-width="2"/>
<path d="M733.5,660.83 L742.3,669.63 L733.5,678.43 L724.7,669.63 Z" fill="#14c014" stroke="#000" stroke-width="2"/>
<path d="M742.1,614.91 L750.9,623.71 L742.1,632.51 L733.3,623.71 Z" fill="#14c014" stroke="#000" stroke-width="2"/>
<path d="M750.7,599.73 L759.5,608.53 L750.7,617.33 L741.9,608.53 Z" fill="#14c014" stroke="#000" stroke-width="2"/>
<path d="M759.3,573.26 L768.1,582.06 L759.3,590.86 L750.5,582.06 Z" fill="#14c014" stroke="#000" stroke-width="2"/>
<path d="M776.5,568.59 L785.3,577.39 L776.5,586.19 L767.7,577.39 Z" fill="#14c014" stroke="#000" stroke-width="2"/>
<path d="M793.7,573.65 L802.5,582.45 L793.7,591.25 L784.9,582.45 Z" fill="#14c014" stroke="#000" stroke-width="2"/>
<path d="M810.9,572.48 L819.7,581.28 L810.9,590.08 L802.1,581.28 Z" fill="#14c014" stroke="#000" stroke-width="2"/>
<path d="M828.1,566.65 L836.9,575.45 L828.1,584.25 L819.3,575.45 Z" fill="#14c014" stroke="#000" stroke-width="2"/>
<path d="M845.3,575.6 L854.1,584.4 L845.3,593.2 L836.5,584.4 Z" fill="#14c014" stroke="#000" stroke-width="2"/>
<path d="M862.5,574.04 L871.3,582.84 L862.5,591.64 L853.7,582.84 Z" fill="#14c014" stroke="#000" stroke-width="2"/>
<path d="M879.7,575.21 L888.5,584.01 L879.7,592.81 L870.9,584.01 Z" fill="#14c014" stroke="#000" stroke-width="2"/>
<path d="M896.9,581.05 L905.7,589.85 L896.9,598.65 L888.1,589.85 Z" fill="#14c014" stroke="#000" stroke-width="2"/>
<path d="M914.1,579.1 L922.9,587.9 L914.1,596.7 L905.3,587.9 Z" fill="#14c014" stroke="#000" stroke-width="2"/>
<path d="M931.3,580.66 L940.1,589.46 L931.3,598.26 L922.5,589.46 Z" fill="#14c014" stroke="#000" stroke-width="2"/>
<path d="M948.5,575.21 L957.3,584.01 L948.5,592.81 L939.7,584.01 Z" fill="#14c014" stroke="#000" stroke-width="2"/>
<path d="M965.7,578.32 L974.5,587.12 L965.7,595.92 L956.9,587.12 Z" fill="#14c014" stroke="#000" stroke-width="2"/>
<path d="M982.9,570.15 L991.7,578.95 L982.9,587.75 L974.1,578.95 Z" fill="#14c014" stroke="#000" stroke-width="2"/>
<path d="M1000.1,574.04 L1008.9,582.84 L1000.1,591.64 L991.3,582.84 Z" fill="#14c014" stroke="#000" stroke-width="2"/>
<path d="M1017.3,575.6 L1026.1,584.4 L1017.3,593.2 L1008.5,584.4 Z" fill="#14c014" stroke="#000" stroke-width="2"/>
<path d="M1034.5,581.44 L1043.3,590.24 L1034.5,599.04 L1025.7,590.24 Z" fill="#14c014" stroke="#000" stroke-width="2"/>
<path d="M1051.7,583.38 L1060.5,592.18 L1051.7,600.98 L1042.9,592.18 Z" fill="#14c014" stroke="#000" stroke-width="2"/>
<path d="M1068.9,574.43 L1077.7,583.23 L1068.9,592.03 L1060.1,583.23 Z" fill="#14c014" stroke="#000" stroke-width="2"/>
<path d="M1086.1,585.33 L1094.9,594.13 L1086.1,602.93 L1077.3,594.13 Z" fill="#14c014" stroke="#000" stroke-width="2"/>
<path d="M1103.3,582.21 L1112.1,591.01 L1103.3,599.81 L1094.5,591.01 Z" fill="#14c014" stroke="#000" stroke-width="2"/>
<path d="M1120.5,576.38 L1129.3,585.18 L1120.5,593.98 L1111.7,585.18 Z" fill="#14c014" stroke="#000" stroke-width="2"/>
<path d="M1169,568.59 L1177.8,577.39 L1169,586.19 L1160.2,577.39 Z" fill="#14c014" stroke="#000" stroke-width="2"/>
<path d="M699.4,771.41 L716,771.41 L707.7,786.01 Z" fill="#2f45c8" stroke="#000" stroke-width="2" stroke-linejoin="miter"/>
<path d="M708,714.2 L724.6,714.2 L716.3,728.8 Z" fill="#2f45c8" stroke="#000" stroke-width="2" stroke-linejoin="miter"/>
<path d="M716.6,688.12 L733.2,688.12 L724.9,702.72 Z" fill="#2f45c8" stroke="#000" stroke-width="2" stroke-linejoin="miter"/>
<path d="M725.2,682.28 L741.8,682.28 L733.5,696.88 Z" fill="#2f45c8" stroke="#000" stroke-width="2" stroke-linejoin="miter"/>
<path d="M733.8,686.95 L750.4,686.95 L742.1,701.55 Z" fill="#2f45c8" stroke="#000" stroke-width="2" stroke-linejoin="miter"/>
<path d="M742.4,682.28 L759,682.28 L750.7,696.88 Z" fill="#2f45c8" stroke="#000" stroke-width="2" stroke-linejoin="miter"/>
<path d="M751,692.01 L767.6,692.01 L759.3,706.61 Z" fill="#2f45c8" stroke="#000" stroke-width="2" stroke-linejoin="miter"/>
<path d="M768.2,694.35 L784.8,694.35 L776.5,708.95 Z" fill="#2f45c8" stroke="#000" stroke-width="2" stroke-linejoin="miter"/>
<path d="M785.4,685.78 L802,685.78 L793.7,700.38 Z" fill="#2f45c8" stroke="#000" stroke-width="2" stroke-linejoin="miter"/>
<path d="M802.6,690.45 L819.2,690.45 L810.9,705.05 Z" fill="#2f45c8" stroke="#000" stroke-width="2" stroke-linejoin="miter"/>
<path d="M819.8,693.18 L836.4,693.18 L828.1,707.78 Z" fill="#2f45c8" stroke="#000" stroke-width="2" stroke-linejoin="miter"/>
<path d="M837,691.62 L853.6,691.62 L845.3,706.22 Z" fill="#2f45c8" stroke="#000" stroke-width="2" stroke-linejoin="miter"/>
<path d="M854.2,689.29 L870.8,689.29 L862.5,703.89 Z" fill="#2f45c8" stroke="#000" stroke-width="2" stroke-linejoin="miter"/>
<path d="M871.4,691.62 L888,691.62 L879.7,706.22 Z" fill="#2f45c8" stroke="#000" stroke-width="2" stroke-linejoin="miter"/>
<path d="M888.6,692.01 L905.2,692.01 L896.9,706.61 Z" fill="#2f45c8" stroke="#000" stroke-width="2" stroke-linejoin="miter"/>
<path d="M905.8,693.18 L922.4,693.18 L914.1,707.78 Z" fill="#2f45c8" stroke="#000" stroke-width="2" stroke-linejoin="miter"/>
<path d="M923,688.12 L939.6,688.12 L931.3,702.72 Z" fill="#2f45c8" stroke="#000" stroke-width="2" stroke-linejoin="miter"/>
<path d="M940.2,675.66 L956.8,675.66 L948.5,690.26 Z" fill="#2f45c8" stroke="#000" stroke-width="2" stroke-linejoin="miter"/>
<path d="M957.4,676.83 L974,676.83 L965.7,691.43 Z" fill="#2f45c8" stroke="#000" stroke-width="2" stroke-linejoin="miter"/>
<path d="M974.6,675.66 L991.2,675.66 L982.9,690.26 Z" fill="#2f45c8" stroke="#000" stroke-width="2" stroke-linejoin="miter"/>
<path d="M991.8,678 L1008.4,678 L1000.1,692.6 Z" fill="#2f45c8" stroke="#000" stroke-width="2" stroke-linejoin="miter"/>
<path d="M1009,672.16 L1025.6,672.16 L1017.3,686.76 Z" fill="#2f45c8" stroke="#000" stroke-width="2" stroke-linejoin="miter"/>
<path d="M1026.2,674.11 L1042.8,674.11 L1034.5,688.71 Z" fill="#2f45c8" stroke="#000" stroke-width="2" stroke-linejoin="miter"/>
<path d="M1043.4,673.72 L1060,673.72 L1051.7,688.32 Z" fill="#2f45c8" stroke="#000" stroke-width="2" stroke-linejoin="miter"/>
<path d="M1060.6,678.39 L1077.2,678.39 L1068.9,692.99 Z" fill="#2f45c8" stroke="#000" stroke-width="2" stroke-linejoin="miter"/>
<path d="M1077.8,677.61 L1094.4,677.61 L1086.1,692.21 Z" fill="#2f45c8" stroke="#000" stroke-width="2" stroke-linejoin="miter"/>
<path d="M1095,679.56 L1111.6,679.56 L1103.3,694.16 Z" fill="#2f45c8" stroke="#000" stroke-width="2" stroke-linejoin="miter"/>
<path d="M1112.2,700.57 L1128.8,700.57 L1120.5,715.17 Z" fill="#2f45c8" stroke="#000" stroke-width="2" stroke-linejoin="miter"/>
<path d="M1160.7,707.58 L1177.3,707.58 L1169,722.18 Z" fill="#2f45c8" stroke="#000" stroke-width="2" stroke-linejoin="miter"/>
</g>
<line x1="707.7" y1="392.8" x2="707.7" y2="784.2" stroke="#000" stroke-width="3.4"/>
<line x1="706" y1="782.5" x2="1190.7" y2="782.5" stroke="#000" stroke-width="3.4"/>
<line x1="700.1" y1="782.5" x2="707.7" y2="782.5" stroke="#000" stroke-width="3.4"/>
<text x="694.2" y="790.3" font-size="25.5" text-anchor="end">0</text>
<line x1="700.1" y1="704.66" x2="707.7" y2="704.66" stroke="#000" stroke-width="3.4"/>
<text x="694.2" y="712.46" font-size="25.5" text-anchor="end">20</text>
<line x1="700.1" y1="626.82" x2="707.7" y2="626.82" stroke="#000" stroke-width="3.4"/>
<text x="694.2" y="634.62" font-size="25.5" text-anchor="end">40</text>
<line x1="700.1" y1="548.98" x2="707.7" y2="548.98" stroke="#000" stroke-width="3.4"/>
<text x="694.2" y="556.78" font-size="25.5" text-anchor="end">60</text>
<line x1="700.1" y1="471.14" x2="707.7" y2="471.14" stroke="#000" stroke-width="3.4"/>
<text x="694.2" y="478.94" font-size="25.5" text-anchor="end">80</text>
<line x1="700.1" y1="393.3" x2="707.7" y2="393.3" stroke="#000" stroke-width="3.4"/>
<text x="694.2" y="401.1" font-size="25.5" text-anchor="end">100</text>
<line x1="703.9" y1="743.58" x2="707.7" y2="743.58" stroke="#000" stroke-width="3.4"/>
<line x1="703.9" y1="665.74" x2="707.7" y2="665.74" stroke="#000" stroke-width="3.4"/>
<line x1="703.9" y1="587.9" x2="707.7" y2="587.9" stroke="#000" stroke-width="3.4"/>
<line x1="703.9" y1="510.06" x2="707.7" y2="510.06" stroke="#000" stroke-width="3.4"/>
<line x1="703.9" y1="432.22" x2="707.7" y2="432.22" stroke="#000" stroke-width="3.4"/>
<line x1="707.7" y1="782.5" x2="707.7" y2="790.1" stroke="#000" stroke-width="3.4"/>
<text x="707.7" y="815.7" font-size="25.5" text-anchor="middle">0</text>
<line x1="793.7" y1="782.5" x2="793.7" y2="790.1" stroke="#000" stroke-width="3.4"/>
<text x="793.7" y="815.7" font-size="25.5" text-anchor="middle">5</text>
<line x1="879.7" y1="782.5" x2="879.7" y2="790.1" stroke="#000" stroke-width="3.4"/>
<text x="879.7" y="815.7" font-size="25.5" text-anchor="middle">10</text>
<line x1="965.7" y1="782.5" x2="965.7" y2="790.1" stroke="#000" stroke-width="3.4"/>
<text x="965.7" y="815.7" font-size="25.5" text-anchor="middle">15</text>
<line x1="1051.7" y1="782.5" x2="1051.7" y2="790.1" stroke="#000" stroke-width="3.4"/>
<text x="1051.7" y="815.7" font-size="25.5" text-anchor="middle">20</text>
<line x1="1169" y1="782.5" x2="1169" y2="790.1" stroke="#000" stroke-width="3.4"/>
<text x="1169" y="815.7" font-size="25.5" text-anchor="middle">33</text>
<line x1="750.7" y1="782.5" x2="750.7" y2="786.3" stroke="#000" stroke-width="3.4"/>
<line x1="836.7" y1="782.5" x2="836.7" y2="786.3" stroke="#000" stroke-width="3.4"/>
<line x1="922.7" y1="782.5" x2="922.7" y2="786.3" stroke="#000" stroke-width="3.4"/>
<line x1="1008.7" y1="782.5" x2="1008.7" y2="786.3" stroke="#000" stroke-width="3.4"/>
<line x1="1094.7" y1="782.5" x2="1094.7" y2="786.3" stroke="#000" stroke-width="3.4"/>
<line x1="1134.7" y1="790" x2="1142.3" y2="775.7" stroke="#000" stroke-width="3.6"/>
<line x1="1144.1" y1="790" x2="1151.7" y2="775.7" stroke="#000" stroke-width="3.6"/>
<text x="949.7" y="856" font-size="26" text-anchor="middle">time [h]</text>
<text transform="translate(641.8,587) rotate(-90)" x="0" y="0" font-size="26" text-anchor="middle">relative amount [%]</text>
</svg>
</body></html>
